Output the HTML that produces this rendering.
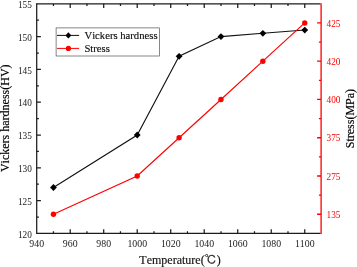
<!DOCTYPE html><html><head><meta charset="utf-8"><title>chart</title><style>html,body{margin:0;padding:0;background:#fff}svg{display:block}text{font-family:"Liberation Serif","Noto Serif CJK SC",serif;font-kerning:none}</style></head><body>
<svg width="357" height="267" viewBox="0 0 357 267">
<rect width="357" height="267" fill="#fff"/>
<g stroke="#1c1c1c" stroke-width="1.25" fill="none">
<path d="M36.7 3.15V233.4H320.5"/>
<path d="M36.7 3.8H320.5"/>
<path d="M53.45 233.4v-2.2M53.45 3.8v2.2M70.21 233.4v-4.2M70.21 3.8v4.2M86.96 233.4v-2.2M86.96 3.8v2.2M103.71 233.4v-4.2M103.71 3.8v4.2M120.46 233.4v-2.2M120.46 3.8v2.2M137.22 233.4v-4.2M137.22 3.8v4.2M153.97 233.4v-2.2M153.97 3.8v2.2M170.72 233.4v-4.2M170.72 3.8v4.2M187.48 233.4v-2.2M187.48 3.8v2.2M204.23 233.4v-4.2M204.23 3.8v4.2M220.98 233.4v-2.2M220.98 3.8v2.2M237.74 233.4v-4.2M237.74 3.8v4.2M254.49 233.4v-2.2M254.49 3.8v2.2M271.24 233.4v-4.2M271.24 3.8v4.2M287.99 233.4v-2.2M287.99 3.8v2.2M304.75 233.4v-4.2M304.75 3.8v4.2M36.7 217.00h2.2M36.7 200.60h4.2M36.7 184.20h2.2M36.7 167.80h4.2M36.7 151.40h2.2M36.7 135.00h4.2M36.7 118.60h2.2M36.7 102.20h4.2M36.7 85.80h2.2M36.7 69.40h4.2M36.7 53.00h2.2M36.7 36.60h4.2M36.7 20.20h2.2"/>
</g>
<g stroke="#f00" stroke-width="1.3" fill="none">
<path d="M321.1 3.15V234.05M321.1 214.27h-4.0M321.1 176.00h-4.0M321.1 137.73h-4.0M321.1 99.47h-4.0M321.1 61.20h-4.0M321.1 22.93h-4.0M321.1 195.13h-2.2M321.1 156.87h-2.2M321.1 118.60h-2.2M321.1 80.33h-2.2M321.1 42.07h-2.2"/></g>
<polyline points="53.45,187.48 137.22,135.00 179.10,56.28 220.98,36.60 262.86,33.32 304.75,30.04" fill="none" stroke="#111" stroke-width="1.08"/>
<path d="M53.45 184.08L56.85 187.48L53.45 190.88L50.05 187.48Z" fill="#000"/>
<path d="M137.22 131.60L140.62 135.00L137.22 138.40L133.82 135.00Z" fill="#000"/>
<path d="M179.10 52.88L182.50 56.28L179.10 59.68L175.70 56.28Z" fill="#000"/>
<path d="M220.98 33.20L224.38 36.60L220.98 40.00L217.58 36.60Z" fill="#000"/>
<path d="M262.86 29.92L266.26 33.32L262.86 36.72L259.46 33.32Z" fill="#000"/>
<path d="M304.75 26.64L308.15 30.04L304.75 33.44L301.35 30.04Z" fill="#000"/>
<polyline points="53.45,214.27 137.22,176.00 179.10,137.73 220.98,99.47 262.86,61.20 304.75,22.93" fill="none" stroke="#f00" stroke-width="1.15"/>
<circle cx="53.45" cy="214.27" r="2.7" fill="#f00"/>
<circle cx="137.22" cy="176.00" r="2.7" fill="#f00"/>
<circle cx="179.10" cy="137.73" r="2.7" fill="#f00"/>
<circle cx="220.98" cy="99.47" r="2.7" fill="#f00"/>
<circle cx="262.86" cy="61.20" r="2.7" fill="#f00"/>
<circle cx="304.75" cy="22.93" r="2.7" fill="#f00"/>
<g font-size="10" fill="#222">
<text transform="translate(36.70,247.3) scale(0.985,1)" text-anchor="middle">940</text>
<text transform="translate(70.21,247.3) scale(0.985,1)" text-anchor="middle">960</text>
<text transform="translate(103.71,247.3) scale(0.985,1)" text-anchor="middle">980</text>
<text transform="translate(137.22,247.3) scale(0.985,1)" text-anchor="middle">1000</text>
<text transform="translate(170.72,247.3) scale(0.985,1)" text-anchor="middle">1020</text>
<text transform="translate(204.23,247.3) scale(0.985,1)" text-anchor="middle">1040</text>
<text transform="translate(237.74,247.3) scale(0.985,1)" text-anchor="middle">1060</text>
<text transform="translate(271.24,247.3) scale(0.985,1)" text-anchor="middle">1080</text>
<text transform="translate(304.75,247.3) scale(0.985,1)" text-anchor="middle">1100</text>
<text transform="translate(31.9,237.60) scale(0.93,1)" text-anchor="end">120</text>
<text transform="translate(31.9,204.80) scale(0.93,1)" text-anchor="end">125</text>
<text transform="translate(31.9,172.00) scale(0.93,1)" text-anchor="end">130</text>
<text transform="translate(31.9,139.20) scale(0.93,1)" text-anchor="end">135</text>
<text transform="translate(31.9,106.40) scale(0.93,1)" text-anchor="end">140</text>
<text transform="translate(31.9,73.60) scale(0.93,1)" text-anchor="end">145</text>
<text transform="translate(31.9,40.80) scale(0.93,1)" text-anchor="end">150</text>
<text transform="translate(31.9,8.00) scale(0.93,1)" text-anchor="end">155</text>
</g>
<g font-size="10" fill="#f00">
<text transform="translate(326.5,217.87) scale(0.93,1)">135</text>
<text transform="translate(326.5,179.60) scale(0.93,1)">275</text>
<text transform="translate(326.5,141.33) scale(0.93,1)">375</text>
<text transform="translate(326.5,103.07) scale(0.93,1)">400</text>
<text transform="translate(326.5,64.80) scale(0.93,1)">420</text>
<text transform="translate(326.5,26.53) scale(0.93,1)">425</text>
</g>
<text x="180.0" y="264.0" font-size="12" text-anchor="middle" fill="#111" style="font-family:'Liberation Serif','IPAGothic',serif" stroke="#111" stroke-width="0.15">Temperature(<tspan fill="#333">℃</tspan>)</text>
<text transform="translate(9.2,172.05) rotate(-90)" font-size="12" fill="#000" stroke="#000" stroke-width="0.18">Vickers hardness(HV)</text>
<text transform="translate(353.6,118.6) rotate(-90)" font-size="12" text-anchor="middle" fill="#000" stroke="#000" stroke-width="0.18">Stress(MPa)</text>
<rect x="56.1" y="27.9" width="103.5" height="28.1" fill="#fff" stroke="#555" stroke-width="0.7"/>
<path d="M57 35.4H79.1" stroke="#111" stroke-width="1"/>
<path d="M68.4 32.3L71.4 35.4L68.4 38.5L65.4 35.4Z" fill="#000"/>
<path d="M57 48.4H79.1" stroke="#f00" stroke-width="1"/>
<circle cx="68.4" cy="48.4" r="2.6" fill="#f00"/>
<text x="84.45" y="38.7" font-size="10.67" fill="#111" stroke="#111" stroke-width="0.15">Vickers hardness</text>
<text x="84.45" y="52.1" font-size="10.67" fill="#111" stroke="#111" stroke-width="0.15">Stress</text>
</svg></body></html>
